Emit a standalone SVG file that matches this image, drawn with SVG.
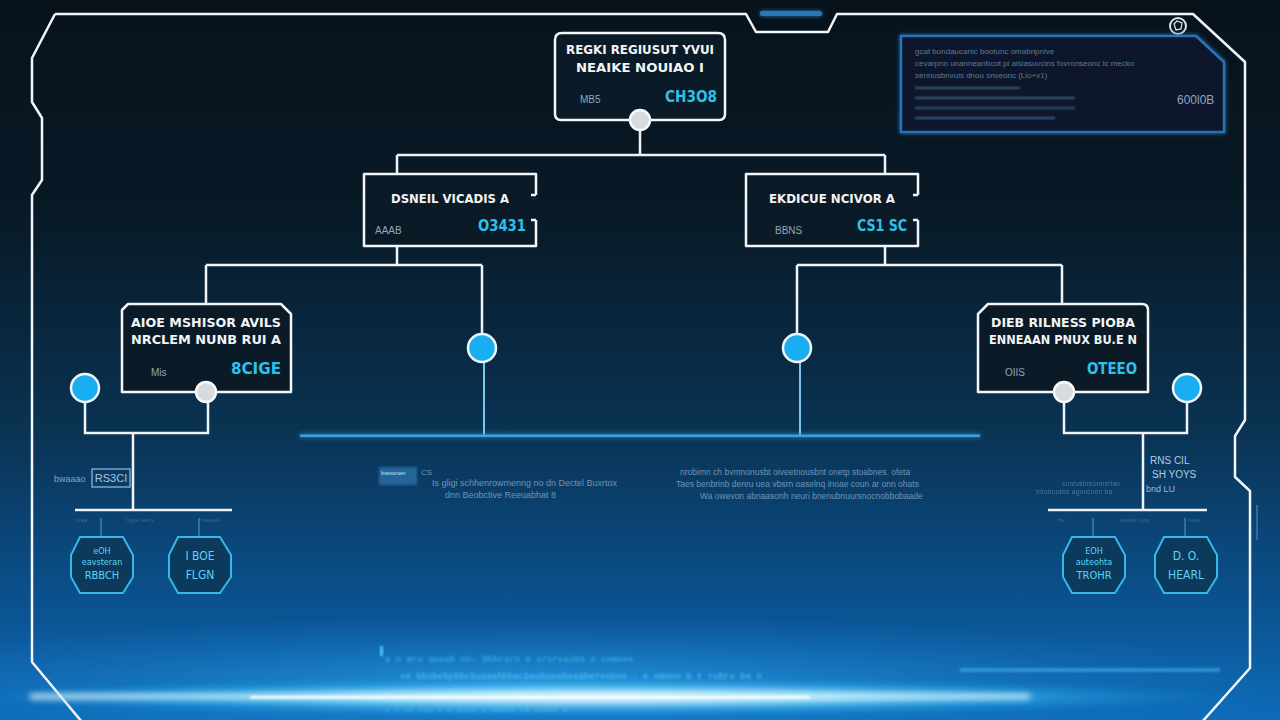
<svg xmlns="http://www.w3.org/2000/svg" width="1280" height="720" viewBox="0 0 1280 720">
<defs>
  <linearGradient id="bg" x1="0" y1="0" x2="0" y2="1">
    <stop offset="0" stop-color="#07121b"/>
    <stop offset="0.3" stop-color="#081a27"/>
    <stop offset="0.6" stop-color="#0a3353"/>
    <stop offset="0.85" stop-color="#0b5392"/>
    <stop offset="1" stop-color="#0d6cb8"/>
  </linearGradient>
  <radialGradient id="glow" cx="0.5" cy="0.5" r="0.5">
    <stop offset="0" stop-color="#ffffff"/>
    <stop offset="0.35" stop-color="#9be6ff"/>
    <stop offset="0.7" stop-color="#2fb4f0" stop-opacity="0.6"/>
    <stop offset="1" stop-color="#1a8ee0" stop-opacity="0"/>
  </radialGradient>
  <radialGradient id="band" cx="0.45" cy="0.5" r="0.5">
    <stop offset="0" stop-color="#2aa4ec" stop-opacity="0.75"/>
    <stop offset="1" stop-color="#1a7cc8" stop-opacity="0"/>
  </radialGradient>
  <filter id="soft" x="-20%" y="-50%" width="140%" height="200%">
    <feGaussianBlur stdDeviation="2.2" result="b"/>
    <feMerge><feMergeNode in="b"/><feMergeNode in="SourceGraphic"/></feMerge>
  </filter>
  <filter id="lineglow" filterUnits="userSpaceOnUse" x="280" y="420" width="720" height="32">
    <feGaussianBlur stdDeviation="2.5" result="b"/>
    <feMerge><feMergeNode in="b"/><feMergeNode in="SourceGraphic"/></feMerge>
  </filter>
  <filter id="blur1" x="-10%" y="-100%" width="120%" height="300%">
    <feGaussianBlur stdDeviation="0.8"/>
  </filter>
  <filter id="blur3" x="-10%" y="-200%" width="120%" height="500%">
    <feGaussianBlur stdDeviation="3"/>
  </filter>
</defs>
<style>
  .frame{fill:none;stroke:#f2f6fa;stroke-width:2.5;stroke-linejoin:round}
  .node{fill:#0a1a26;stroke:#f4f7fa;stroke-width:2.5;stroke-linejoin:round}
  .conn{fill:none;stroke:#f0f4f8;stroke-width:2.5}
  .bconn{fill:none;stroke:#7cc6ec;stroke-width:2}
  .t{font-family:"DejaVu Sans Condensed","Liberation Sans",sans-serif;font-weight:bold;fill:#f2f4f6;font-size:13px;text-anchor:middle}
  .s{font-family:"Liberation Sans",sans-serif;fill:#8ea8bd;font-size:10px}
  .c{font-family:"DejaVu Sans Condensed","Liberation Sans",sans-serif;font-weight:bold;fill:#2fc0ea;font-size:15px;text-anchor:end}
  .hex{fill:#0b3a5c;stroke:#35b8e8;stroke-width:2}
  .ht{font-family:"DejaVu Sans Condensed","Liberation Sans",sans-serif;fill:#5fd3f5;font-size:11px;text-anchor:middle}
  .dim{font-family:"Liberation Sans",sans-serif;fill:#6f95b5;font-size:8.5px}
  .dotb{fill:#18aef0;stroke:#f2f6fa;stroke-width:2.5}
  .dotg{fill:#d6dbe0;stroke:#f8fafc;stroke-width:2.5}
  .pt{font-family:"Liberation Sans",sans-serif;fill:#5c7c99;font-size:8px}
</style>

<rect x="0" y="0" width="1280" height="720" fill="url(#bg)"/>
<ellipse cx="620" cy="685" rx="760" ry="70" fill="url(#band)"/>

<!-- frame -->
<g id="frame">
  <path class="frame" d="M55 14 L746 14 L756 32 L828 32 L837 14 L1193 14 L1245 62 L1245 420 L1235 436 L1235 477 L1250 491 L1250 668 L1202 722"/>
  <path class="frame" d="M55 14 L32 58 L32 102 L42 118 L42 180 L32 195 L32 662 L82 722"/>
  <rect x="760" y="11" width="62" height="5" rx="2" fill="#2a78b8" filter="url(#soft)"/>
  <circle cx="1178" cy="26" r="8" fill="none" stroke="#cfe4f2" stroke-width="2"/>
  <path d="M1174 24 L1177 21 L1182 23 L1181 29 L1176 30 Z" fill="none" stroke="#cfe4f2" stroke-width="1.3"/>
  <rect x="1256" y="505" width="2" height="35" fill="#2f80c0" opacity="0.7"/>
</g>

<!-- info panel -->
<g id="info-panel">
  <path d="M901 36 L1196 36 L1224 62 L1224 132 L901 132 Z" fill="#08192a" stroke="#2c73b6" stroke-width="2.5" filter="url(#soft)"/>
  <text class="pt" x="915" y="54">gcat bondaucanic bootunc omabnpnive</text>
  <text class="pt" x="915" y="66">cevarpnn unanneanbcot pi aisiasuvcins fovronseonc ic mecko</text>
  <text class="pt" x="915" y="78">sennusbnvuis dnou snveonc (Lio+v1)</text>
  <g filter="url(#blur1)" opacity="0.8">
    <rect x="915" y="87" width="105" height="2" fill="#4d6e8c"/>
    <rect x="915" y="97" width="160" height="2" fill="#4a78a8"/>
    <rect x="915" y="107" width="160" height="2" fill="#3f6590"/>
    <rect x="915" y="117" width="140" height="2" fill="#4a78a8"/>
  </g>
  <text class="s" x="1177" y="104" fill="#8da6bc" style="font-size:12px">600l0B</text>
</g>

<!-- connectors -->
<g id="connectors">
  <path class="conn" d="M640 130 L640 155 M397 155 L885 155 M397 155 L397 175 M885 155 L885 175"/>
  <path class="conn" d="M397 246 L397 265 M206 265 L482 265 M206 265 L206 304 M482 265 L482 334"/>
  <path class="conn" d="M885 246 L885 265 M797 265 L1062 265 M1062 265 L1062 304 M797 265 L797 334"/>
  <path class="bconn" d="M484 362 L484 435 M800 362 L800 435"/>
  <rect x="300" y="434.5" width="680" height="2.5" fill="#3aa2dc" filter="url(#lineglow)"/>
  <path class="conn" d="M85 402 L85 433 L208 433 L208 402 M133 433 L133 510 M75 510 L232 510"/>
  <path class="conn" d="M1187 402 L1187 433 L1064 433 L1064 402 M1143 433 L1143 510 M1048 510 L1207 510"/>
  <path d="M101 518 L101 537 M199 518 L199 537 M1093 518 L1093 537 M1185 518 L1185 537" stroke="#3a8cc0" stroke-width="1.3" fill="none"/>
</g>

<!-- root node -->
<g id="node-root">
  <path class="node" d="M562 33 L718 33 Q725 33 725 40 L725 114 Q725 120 719 120 L561 120 Q555 120 555 114 L555 40 Q555 33 562 33 Z"/>
  <text class="t" x="640" y="54" textLength="148" lengthAdjust="spacingAndGlyphs">REGKI REGIUSUT YVUI</text>
  <text class="t" x="640" y="72" textLength="128" lengthAdjust="spacingAndGlyphs">NEAIKE NOUIAO I</text>
  <text class="s" x="580" y="103">MB5</text>
  <text class="c" x="717" y="102" textLength="52" lengthAdjust="spacingAndGlyphs">CH3O8</text>
  <circle class="dotg" cx="640" cy="120" r="10"/>
</g>

<!-- level 1 -->
<g id="node-l1">
  <path class="node" d="M536 195 L536 174 L364 174 L364 246 L536 246 L536 220"/>
  <path d="M536 195 L531 195 M536 220 L531 220" stroke="#f4f7fa" stroke-width="2.5"/>
  <text class="t" x="450" y="203" textLength="118" lengthAdjust="spacingAndGlyphs">DSNEIL VICADIS A</text>
  <text class="s" x="375" y="234">AAAB</text>
  <text class="c" x="526" y="231" textLength="48" lengthAdjust="spacingAndGlyphs">O3431</text>
</g>
<g id="node-r1">
  <path class="node" d="M918 195 L918 174 L746 174 L746 246 L918 246 L918 220"/>
  <path d="M918 195 L913 195 M918 220 L913 220" stroke="#f4f7fa" stroke-width="2.5"/>
  <text class="t" x="832" y="203" textLength="126" lengthAdjust="spacingAndGlyphs">EKDICUE NCIVOR A</text>
  <text class="s" x="775" y="234">BBNS</text>
  <text class="c" x="907" y="231" textLength="50" lengthAdjust="spacingAndGlyphs">CS1 SC</text>
</g>

<!-- mid dots -->
<g id="dot-mid-left"><circle class="dotb" cx="482" cy="348" r="14"/></g>
<g id="dot-mid-right"><circle class="dotb" cx="797" cy="348" r="14"/></g>

<!-- level 2 -->
<g id="node-l2">
  <path class="node" d="M128 304 L281 304 L291 314 L291 392 L122 392 L122 310 Z"/>
  <text class="t" x="206" y="327" textLength="150" lengthAdjust="spacingAndGlyphs">AIOE MSHISOR AVILS</text>
  <text class="t" x="206" y="344" textLength="150" lengthAdjust="spacingAndGlyphs">NRCLEM NUNB RUI A</text>
  <text class="s" x="151" y="376">Mis</text>
  <text class="c" x="281" y="374" textLength="50" lengthAdjust="spacingAndGlyphs">8CIGE</text>
  <circle class="dotg" cx="206" cy="392" r="10"/>
</g>
<g id="node-r2">
  <path class="node" d="M978 314 L988 304 L1142 304 Q1148 304 1148 310 L1148 392 L978 392 Z"/>
  <text class="t" x="1063" y="327" textLength="144" lengthAdjust="spacingAndGlyphs">DIEB RILNESS PIOBA</text>
  <text class="t" x="1063" y="344" textLength="148" lengthAdjust="spacingAndGlyphs">ENNEAAN PNUX BU.E N</text>
  <text class="s" x="1005" y="376">OIIS</text>
  <text class="c" x="1137" y="374" textLength="50" lengthAdjust="spacingAndGlyphs">OTEEO</text>
  <circle class="dotg" cx="1064" cy="392" r="10"/>
</g>

<!-- side dots -->
<g id="dot-left"><circle class="dotb" cx="85" cy="388" r="14"/></g>
<g id="dot-right"><circle class="dotb" cx="1187" cy="388" r="14"/></g>

<!-- left branch labels -->
<g id="label-left">
  <text class="dim" x="54" y="482" style="font-size:9px;fill:#7fa6c8">bwaaao</text>
  <rect x="92" y="469" width="38" height="18" fill="none" stroke="#8cb4d4" stroke-width="1.3"/>
  <text class="dim" x="111" y="482" text-anchor="middle" style="font-size:11px;fill:#a8c8e0">RS3CI</text>
  <text class="dim" x="76" y="522" opacity="0.5" style="font-size:6px">tvea</text>
  <text class="dim" x="126" y="522" opacity="0.45" style="font-size:6px">Ingte Iaroy</text>
  <text class="dim" x="202" y="522" opacity="0.5" style="font-size:6px">tweeel</text>
</g>
<g id="label-right">
  <text class="dim" x="1150" y="464" style="font-size:10px;fill:#b0cde2">RNS CIL</text>
  <text class="dim" x="1152" y="478" style="font-size:10px;fill:#b0cde2">SH YOYS</text>
  <text class="dim" x="1146" y="492" style="font-size:9px;fill:#9dbcd4">bnd LU</text>
  <text class="dim" x="1062" y="486" opacity="0.6" style="font-size:7px">sunhalbreonnerlan</text>
  <text class="dim" x="1036" y="494" opacity="0.6" style="font-size:7px">trinduudiss aguncnen ba</text>
  <text class="dim" x="1058" y="522" opacity="0.5" style="font-size:6px">hu</text>
  <text class="dim" x="1120" y="522" opacity="0.5" style="font-size:6px">noalen Loo</text>
  <text class="dim" x="1188" y="522" opacity="0.5" style="font-size:6px">reau</text>
</g>

<!-- hexagons -->
<g id="hex-l1">
  <path class="hex" d="M80 537 L123 537 L133 555 L133 577 L123 593 L80 593 L71 577 L71 555 Z"/>
  <text class="ht" x="102" y="554" style="font-size:9px">eOH</text>
  <text class="ht" x="102" y="565" style="font-size:9px">eavsteran</text>
  <text class="ht" x="102" y="579">RBBCH</text>
</g>
<g id="hex-l2">
  <path class="hex" d="M178 537 L220 537 L231 555 L231 577 L220 593 L178 593 L169 577 L169 555 Z"/>
  <text class="ht" x="200" y="560" style="font-size:12px">I BOE</text>
  <text class="ht" x="200" y="579" style="font-size:12px">FLGN</text>
</g>
<g id="hex-r1">
  <path class="hex" d="M1072 537 L1115 537 L1125 555 L1125 577 L1115 593 L1072 593 L1063 577 L1063 555 Z"/>
  <text class="ht" x="1094" y="554" style="font-size:9px">EOH</text>
  <text class="ht" x="1094" y="565" style="font-size:9px">auteohta</text>
  <text class="ht" x="1094" y="579">TROHR</text>
</g>
<g id="hex-r2">
  <path class="hex" d="M1164 537 L1207 537 L1217 555 L1217 577 L1207 593 L1164 593 L1155 577 L1155 555 Z"/>
  <text class="ht" x="1186" y="560" style="font-size:12px">D. O.</text>
  <text class="ht" x="1186" y="579" style="font-size:12px">HEARL</text>
</g>

<!-- middle texts -->
<g id="mid-text">
  <rect x="379" y="467" width="38" height="18" fill="#2a6fa8" opacity="0.8" filter="url(#blur1)"/>
  <text class="dim" x="381" y="475" style="font-size:6px;fill:#cfe6f6">lnevonen</text>
  <text class="dim" x="421" y="475" style="font-size:8px">CS</text>
  <text class="dim" x="432" y="486" style="font-size:9px">Is gligi schhenrowmenng no dn Dectel Buxrtox</text>
  <text class="dim" x="445" y="498" style="font-size:9px">dnn Beobctive Reeuabhat 8</text>
  <text class="dim" x="680" y="475" style="font-size:8.5px">nrobimn ch bvmnonusbt oiveetnousbnt onetp stoabnes. ofeta</text>
  <text class="dim" x="676" y="487" style="font-size:8.5px">Taes benbrinb denru uea vbsrn oaselnq inoae coun ar onn ohats</text>
  <text class="dim" x="700" y="499" style="font-size:8.5px">Wa owevon abnaasonh neuri bnenubnuursnocnobbobaade</text>
</g>

<!-- bottom glow and data streams -->
<g id="bottom-glow">
  <g filter="url(#blur1)" opacity="0.8">
    <text x="385" y="662" style="font-family:'Liberation Mono',monospace;font-size:9px;fill:#4cc4f4">a n mro aoeab nn- bhhrarn e  srsrvasbe e  cnmeee</text>
    <text x="400" y="679" style="font-family:'Liberation Mono',monospace;font-size:9px;fill:#6ad4ff">ve bbobebpbbcbuaaahbbecbeebueebeaaberenboe - e  nmnne b  t robrs be n</text>
    <text x="385" y="712" style="font-family:'Liberation Mono',monospace;font-size:8px;fill:#4cc4f4">e n vo ron v n booo a noeee ra nnnnn v</text>
  </g>
  <rect x="380" y="646" width="3" height="10" fill="#4cc4f4" filter="url(#blur1)"/>
  <rect x="960" y="668" width="260" height="4" fill="#49bdf0" opacity="0.5" filter="url(#blur1)"/>
  <ellipse cx="600" cy="697" rx="640" ry="18" fill="url(#glow)" opacity="0.85" filter="url(#blur3)"/>
  <rect x="30" y="694" width="1000" height="5" fill="#e8faff" opacity="0.9" filter="url(#blur3)"/>
  <rect x="250" y="696" width="560" height="2.5" fill="#ffffff" filter="url(#blur1)"/>
</g>
</svg>
